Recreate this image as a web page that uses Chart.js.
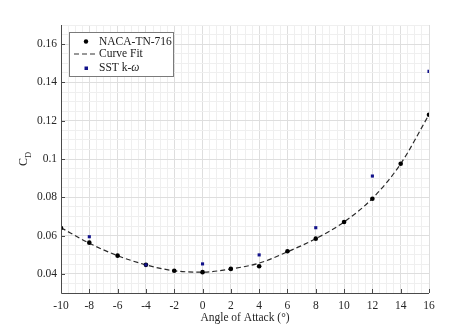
<!DOCTYPE html>
<html>
<head>
<meta charset="utf-8">
<script src="https://cdn.jsdelivr.net/npm/chart.js@4/dist/chart.umd.min.js"></script>
<style>
  html, body { margin: 0; padding: 0; background: #fff; }
  #wrap { width: 474px; height: 331px; position: relative; }
</style>
</head>
<body>
<div id="wrap"><canvas id="c" width="474" height="331"></canvas></div>
<script>
// Angle of attack (deg) for each measurement
const angles = [-10, -8, -6, -4, -2, 0, 2, 4, 6, 8, 10, 12, 14, 16];
// Wind tunnel drag coefficients (NACA-TN-716)
const nacaCd = [0.0639, 0.0563, 0.0495, 0.0447, 0.0416, 0.0409, 0.0426, 0.0440, 0.0518, 0.0584, 0.0671, 0.0792, 0.0975, 0.1231];
// Fitted curve through the experimental data
const fitCd = [0.0641, 0.0560, 0.0495, 0.0447, 0.0416, 0.0409, 0.0426, 0.0456, 0.0515, 0.0584, 0.0671, 0.0794, 0.0975, 0.1232];
// CFD results, SST k-omega model
const sstAngles = [-8, -4, 0, 4, 8, 12, 16];
const sstCd = [0.0594, 0.0447, 0.0452, 0.0499, 0.0641, 0.0911, 0.1458];
// Axis tick labels
const xTickLabels = [-10, -8, -6, -4, -2, 0, 2, 4, 6, 8, 10, 12, 14, 16];
const yTickLabels = [0.04, 0.06, 0.08, 0.1, 0.12, 0.14, 0.16];

const FONT = '"Liberation Serif", "DejaVu Serif", serif';
const FS = 11.5;
const SST_COLOR = '#12128a';

const near = (v, list, eps) => list.some(t => Math.abs(t - v) < eps);

const decorations = {
  id: 'decorations',
  afterDraw(chart) {
    const { ctx, chartArea: a, scales } = chart;
    const x = scales.x, y = scales.y;
    ctx.save();
    // axis lines
    ctx.strokeStyle = '#4a4a4a';
    ctx.lineWidth = 1;
    ctx.beginPath();
    ctx.moveTo(a.left + 0.5, a.top);
    ctx.lineTo(a.left + 0.5, a.bottom + 0.5);
    ctx.lineTo(a.right, a.bottom + 0.5);
    ctx.stroke();
    // inward major ticks
    ctx.beginPath();
    xTickLabels.forEach(v => {
      const px = Math.round(x.getPixelForValue(v)) + 0.5;
      ctx.moveTo(px, a.bottom);
      ctx.lineTo(px, a.bottom - 4);
    });
    yTickLabels.forEach(v => {
      const py = Math.round(y.getPixelForValue(v)) + 0.5;
      ctx.moveTo(a.left, py);
      ctx.lineTo(a.left + 4, py);
    });
    ctx.stroke();

    // axis titles
    ctx.fillStyle = '#262626';
    ctx.font = FS + 'px ' + FONT;
    ctx.textAlign = 'center';
    ctx.textBaseline = 'middle';
    ctx.fillText('Angle of Attack (\u00b0)', 245, 318);

    ctx.save();
    ctx.translate(27, 160);
    ctx.rotate(-Math.PI / 2);
    ctx.textAlign = 'left';
    ctx.textBaseline = 'alphabetic';
    ctx.font = '12px ' + FONT;
    const cw = ctx.measureText('C').width;
    ctx.fillText('C', -6, 0);
    ctx.font = '8.5px ' + FONT;
    ctx.fillText('D', -6 + cw, 4);
    ctx.restore();

    // legend box
    const lx = 69, ly = 32, lw = 104, lh = 44;
    ctx.fillStyle = '#ffffff';
    ctx.fillRect(lx, ly, lw, lh);
    ctx.strokeStyle = '#7a7a7a';
    ctx.lineWidth = 1;
    ctx.strokeRect(lx + 0.5, ly + 0.5, lw, lh);

    const rows = [41.5, 54, 68];
    // NACA marker
    ctx.fillStyle = '#000';
    ctx.beginPath();
    ctx.arc(86, rows[0], 2.2, 0, Math.PI * 2);
    ctx.fill();
    // curve fit sample
    ctx.strokeStyle = '#333';
    ctx.lineWidth = 1.2;
    ctx.setLineDash([5, 3]);
    ctx.beginPath();
    ctx.moveTo(74, rows[1]);
    ctx.lineTo(98, rows[1]);
    ctx.stroke();
    ctx.setLineDash([]);
    // SST marker
    ctx.fillStyle = SST_COLOR;
    ctx.fillRect(84.5, rows[2] - 1.5, 3.5, 3.5);

    ctx.fillStyle = '#1a1a1a';
    ctx.textAlign = 'left';
    ctx.textBaseline = 'middle';
    ctx.font = FS + 'px ' + FONT;
    ctx.fillText('NACA-TN-716', 99, rows[0]);
    ctx.fillText('Curve Fit', 99, rows[1]);
    const pre = 'SST k-';
    ctx.fillText(pre, 99, rows[2]);
    const pw = ctx.measureText(pre).width;
    ctx.font = 'italic ' + FS + 'px ' + FONT;
    ctx.fillText('\u03c9', 99 + pw, rows[2]);
    ctx.restore();
  }
};

new Chart(document.getElementById('c'), {
  type: 'scatter',
  data: {
    datasets: [
      {
        label: 'Curve Fit',
        type: 'line',
        data: angles.map((a, i) => ({ x: a, y: fitCd[i] })),
        borderColor: '#2a2a2a',
        borderWidth: 1.2,
        borderDash: [5, 3],
        pointRadius: 0,
        fill: false,
        cubicInterpolationMode: 'monotone',
        order: 3
      },
      {
        label: 'NACA-TN-716',
        data: angles.map((a, i) => ({ x: a, y: nacaCd[i] })),
        backgroundColor: '#000',
        borderColor: '#000',
        pointRadius: 2.3,
        pointBorderWidth: 0,
        order: 2
      },
      {
        label: 'SST k-\u03c9',
        data: sstAngles.map((a, i) => ({ x: a, y: sstCd[i] })),
        backgroundColor: SST_COLOR,
        borderColor: SST_COLOR,
        pointStyle: 'rect',
        pointRadius: 2.2,
        pointBorderWidth: 0,
        order: 1
      }
    ]
  },
  options: {
    responsive: false,
    animation: false,
    layout: { padding: { left: 0, top: 25, right: 45, bottom: 0 } },
    plugins: { legend: { display: false }, tooltip: { enabled: false } },
    scales: {
      x: {
        type: 'linear',
        min: -10, max: 16,
        afterFit(s) { s.height = 38; },
        border: { display: false },
        grid: {
          drawTicks: false,
          color: c => near(c.tick.value, xTickLabels, 1e-6) ? '#dedede' : '#efefef',
          lineWidth: 1
        },
        ticks: {
          stepSize: 0.5,
          autoSkip: false,
          maxRotation: 0,
          padding: 6,
          color: '#262626',
          font: { family: FONT, size: FS },
          callback: v => near(v, xTickLabels, 1e-6) ? String(Math.round(v)) : ''
        }
      },
      y: {
        type: 'linear',
        min: 0.03, max: 0.17,
        afterFit(s) { s.width = 61; },
        border: { display: false },
        grid: {
          drawTicks: false,
          color: c => near(c.tick.value, yTickLabels, 1e-7) ? '#dedede' : '#efefef',
          lineWidth: 1
        },
        ticks: {
          stepSize: 0.005,
          autoSkip: false,
          padding: 4,
          color: '#262626',
          font: { family: FONT, size: FS },
          callback: v => {
            const hit = yTickLabels.find(t => Math.abs(t - v) < 1e-7);
            return hit !== undefined ? String(hit) : '';
          }
        }
      }
    }
  },
  plugins: [decorations]
});
</script>
</body>
</html>
